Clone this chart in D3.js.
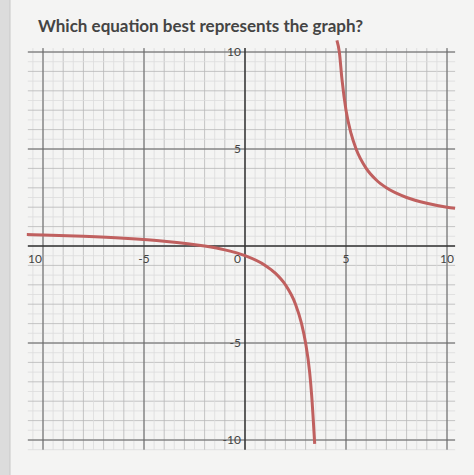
<!DOCTYPE html>
<html><head><meta charset="utf-8">
<script src="https://cdn.jsdelivr.net/npm/d3@7"></script>
<style>body{margin:0;background:#dcdcdc;}svg{display:block;}</style>
</head><body>
<svg id="chart" width="474" height="475"></svg>
<script>
const title = 'Which equation best represents the graph?';
const xTicks = [-10, -5, 5, 10];
const yTicks = [-10, -5, 5, 10];
// points
const leftBranch = [[-10.8,0.59],[-10,0.57],[-8,0.5],[-6,0.4],[-4,0.25],[-2,0],[-1,-0.2],[0,-0.5],[1,-1],[1.5,-1.4],[2,-2],[2.5,-3],[2.8,-4],[3,-5],[3.2,-6.5],[3.3,-7.7],[3.45,-10.2]];
const rightBranch = [[4.55,10.6],[4.67,10],[4.8,8.6],[5,7],[5.25,5.8],[5.5,5],[6,4],[6.5,3.4],[7,3],[8,2.5],[9,2.2],[10,2],[10.4,1.95]];

const svg = d3.select('#chart');
svg.append('rect').attr('x', 10).attr('y', 0).attr('width', 464).attr('height', 475).attr('fill', '#f4f4f3');
svg.append('line').attr('x1', 10).attr('x2', 10).attr('y1', 0).attr('y2', 475).attr('stroke', '#c8c8c8');

svg.append('text').attr('x', 38).attr('y', 32).text(title)
  .attr('font-family', 'Lato, sans-serif').attr('font-size', 17).attr('font-weight', 'bold').attr('fill', '#444');

const x = d3.scaleLinear().domain([-10, 10]).range([43, 447]);
const y = d3.scaleLinear().domain([-10, 10]).range([440, 52]);
const xMin = -10.75, xMax = 10.4, yMin = -10.5, yMax = 10.2;

const g = svg.append('g');
// fine hatch lines
d3.range(-21, 22).map(d => d / 2).forEach(v => {
  if (v >= xMin && v <= xMax) g.append('line').attr('x1', x(v)).attr('x2', x(v)).attr('y1', y(yMax)).attr('y2', y(yMin))
    .attr('stroke', Number.isInteger(v) ? '#b8b8b8' : '#dcdcdc').attr('stroke-width', 0.8);
  if (v >= yMin && v <= yMax) g.append('line').attr('y1', y(v)).attr('y2', y(v)).attr('x1', x(xMin)).attr('x2', x(xMax))
    .attr('stroke', Number.isInteger(v) ? '#b8b8b8' : '#dcdcdc').attr('stroke-width', 0.8);
});
[-10, -5, 5, 10].forEach(v => {
  g.append('line').attr('x1', x(v)).attr('x2', x(v)).attr('y1', y(yMax)).attr('y2', y(yMin)).attr('stroke', '#666').attr('stroke-width', 1);
  g.append('line').attr('y1', y(v)).attr('y2', y(v)).attr('x1', x(xMin)).attr('x2', x(xMax)).attr('stroke', '#666').attr('stroke-width', 1);
});
g.append('line').attr('x1', x(0)).attr('x2', x(0)).attr('y1', y(yMax)).attr('y2', y(yMin)).attr('stroke', '#333').attr('stroke-width', 1.5);
g.append('line').attr('y1', y(0)).attr('y2', y(0)).attr('x1', x(xMin)).attr('x2', x(xMax)).attr('stroke', '#333').attr('stroke-width', 1.5);

const font = 'Lato, sans-serif';
xTicks.forEach(v => {
  g.append('text').attr('x', x(v) + (v === -10 ? -8 : 0)).attr('y', y(0) + 17).attr('text-anchor', 'middle')
    .attr('font-family', font).attr('font-size', 12).attr('fill', '#444').text(v === -10 ? '10' : v);
});
g.append('text').attr('x', x(0) - 4).attr('y', y(0) + 17).attr('text-anchor', 'end')
  .attr('font-family', font).attr('font-size', 12).attr('fill', '#444').text('0');
yTicks.forEach(v => {
  g.append('text').attr('x', x(0) - 4).attr('y', y(v) + 4).attr('text-anchor', 'end')
    .attr('font-family', font).attr('font-size', 12).attr('fill', '#444').text(v);
});

const line = d3.line().x(d => x(d[0])).y(d => y(d[1])).curve(d3.curveMonotoneX);
[leftBranch, rightBranch].forEach(b => {
  g.append('path').attr('d', line(b)).attr('fill', 'none').attr('stroke', '#c0605f').attr('stroke-width', 3);
});
</script>
</body></html>
